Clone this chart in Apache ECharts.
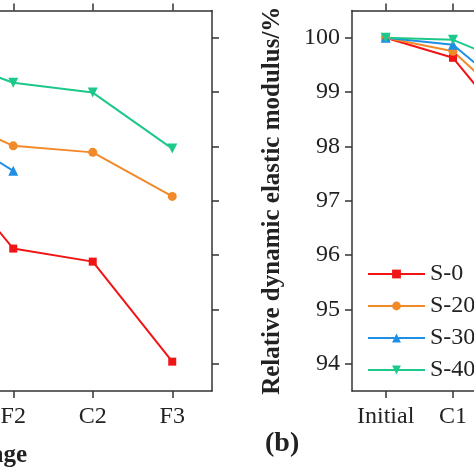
<!DOCTYPE html>
<html>
<head>
<meta charset="utf-8">
<script src="https://cdn.jsdelivr.net/npm/echarts@6/dist/echarts.min.js"></script>
<style>
  html, body { margin: 0; padding: 0; background: #fff; }
  #main { width: 474px; height: 474px; }
</style>
</head>
<body>
<div id="main"></div>
<script>
// panel (a), only the right part is visible
const stagesA = ['C1', 'F2', 'C2', 'F3']
const s0A = [97.9, 96.12, 95.88, 94.04]
const s20A = [98.68, 98.01, 97.89, 97.08]
const s30A = [98.46, 97.55, null, null]
const s40A = [99.72, 99.17, 98.99, 97.96]

// panel (b), only the left part is visible
const stagesB = ['Initial', 'C1', 'F1']
const s0B = [100, 99.63, 98.12]
const s20B = [100, 99.75, 98.61]
const s30B = [100, 99.87, 98.84]
const s40B = [100, 99.96, 99.45]

const yTicks = [94, 95, 96, 97, 98, 99, 100]
const names = ['S-0', 'S-20%', 'S-30%', 'S-40%']
const colors = ['#f01414', '#f28a2a', '#1e8fe4', '#1cc98a']
const symbols = ['rect', 'circle', 'triangle', 'triangle']
const rotates = [0, 0, 0, 180]
const sizes = [8, 9, 10, 10]

const serif = 'Liberation Serif'
const axisColor = '#333'

const myChart = echarts.init(document.getElementById('main'))

const catAxis = function (grid, data, pos, showLabel) {
    return {
        type: 'category',
        gridIndex: grid,
        position: pos,
        data: data,
        boundaryGap: true,
        axisLine: { show: true, lineStyle: { color: axisColor, width: 1.5 } },
        axisTick: { show: true, alignWithLabel: true, inside: false, length: 7, interval: 0, lineStyle: { color: axisColor, width: 1.5 } },
        axisLabel: { show: showLabel, interval: 0, hideOverlap: false, fontFamily: serif, fontSize: 24, color: '#222', margin: 14 },
        splitLine: { show: false }
    }
}

const valAxis = function (grid, pos, showLabel, extra) {
    return Object.assign({
        type: 'value',
        gridIndex: grid,
        position: pos,
        min: 93.5,
        max: 100.5,
        axisLine: { show: true, lineStyle: { color: axisColor, width: 1.5 } },
        axisTick: { show: true, inside: false, length: 7, customValues: yTicks, lineStyle: { color: axisColor, width: 1.5 } },
        axisLabel: { show: showLabel, customValues: yTicks, fontFamily: serif, fontSize: 24, color: '#222', margin: 12 },
        splitLine: { show: false }
    }, extra || {})
}

const makeSeries = function (i, data, xi, yi) {
    return {
        name: names[i],
        type: 'line',
        xAxisIndex: xi,
        yAxisIndex: yi,
        data: data,
        symbol: symbols[i],
        symbolRotate: rotates[i],
        symbolSize: sizes[i],
        showSymbol: true,
        connectNulls: false,
        color: colors[i],
        lineStyle: { width: 2, color: colors[i] },
        itemStyle: { color: colors[i] }
    }
}

const dataA = [s0A, s20A, s30A, s40A]
const dataB = [s0B, s20B, s30B, s40B]

const series = []
dataA.forEach((d, i) => series.push(makeSeries(i, d, 0, 0)))
dataB.forEach((d, i) => series.push(makeSeries(i, d, 2, 2)))

myChart.setOption({
    animation: false,
    backgroundColor: '#fff',
    grid: [
        { left: -106, width: 318, top: 10.5, bottom: 83, outerBoundsMode: 'none', containLabel: false },
        { left: 352, width: 202, top: 10.5, bottom: 83, outerBoundsMode: 'none', containLabel: false }
    ],
    xAxis: [
        catAxis(0, stagesA, 'bottom', true),
        catAxis(0, stagesA, 'top', false),
        catAxis(1, stagesB, 'bottom', true),
        catAxis(1, stagesB, 'top', false)
    ],
    yAxis: [
        valAxis(0, 'right', false),
        valAxis(1, 'right', false),
        valAxis(1, 'left', true, {
            name: 'Relative dynamic elastic modulus/%',
            nameLocation: 'middle',
            nameGap: 67,
            nameTextStyle: { fontFamily: serif, fontSize: 25, fontWeight: 'bold', color: '#222' }
        })
    ],
    legend: {
        data: names,
        orient: 'vertical',
        left: 362,
        top: 257,
        itemWidth: 57,
        itemHeight: 11,
        itemGap: 8,
        textStyle: { fontFamily: serif, fontSize: 24, color: '#222', lineHeight: 22 }
    },
    graphic: [
        {
            type: 'text',
            x: 27,
            y: 456,
            style: { text: 'Test stage', font: 'bold 25px "Liberation Serif"', fill: '#222', textAlign: 'right', textVerticalAlign: 'middle' }
        },
        {
            type: 'text',
            x: 265,
            y: 444,
            style: { text: '(b)', font: 'bold 28px "Liberation Serif"', fill: '#222', textAlign: 'left', textVerticalAlign: 'middle' }
        }
    ],
    series: series
})
</script>
</body>
</html>
